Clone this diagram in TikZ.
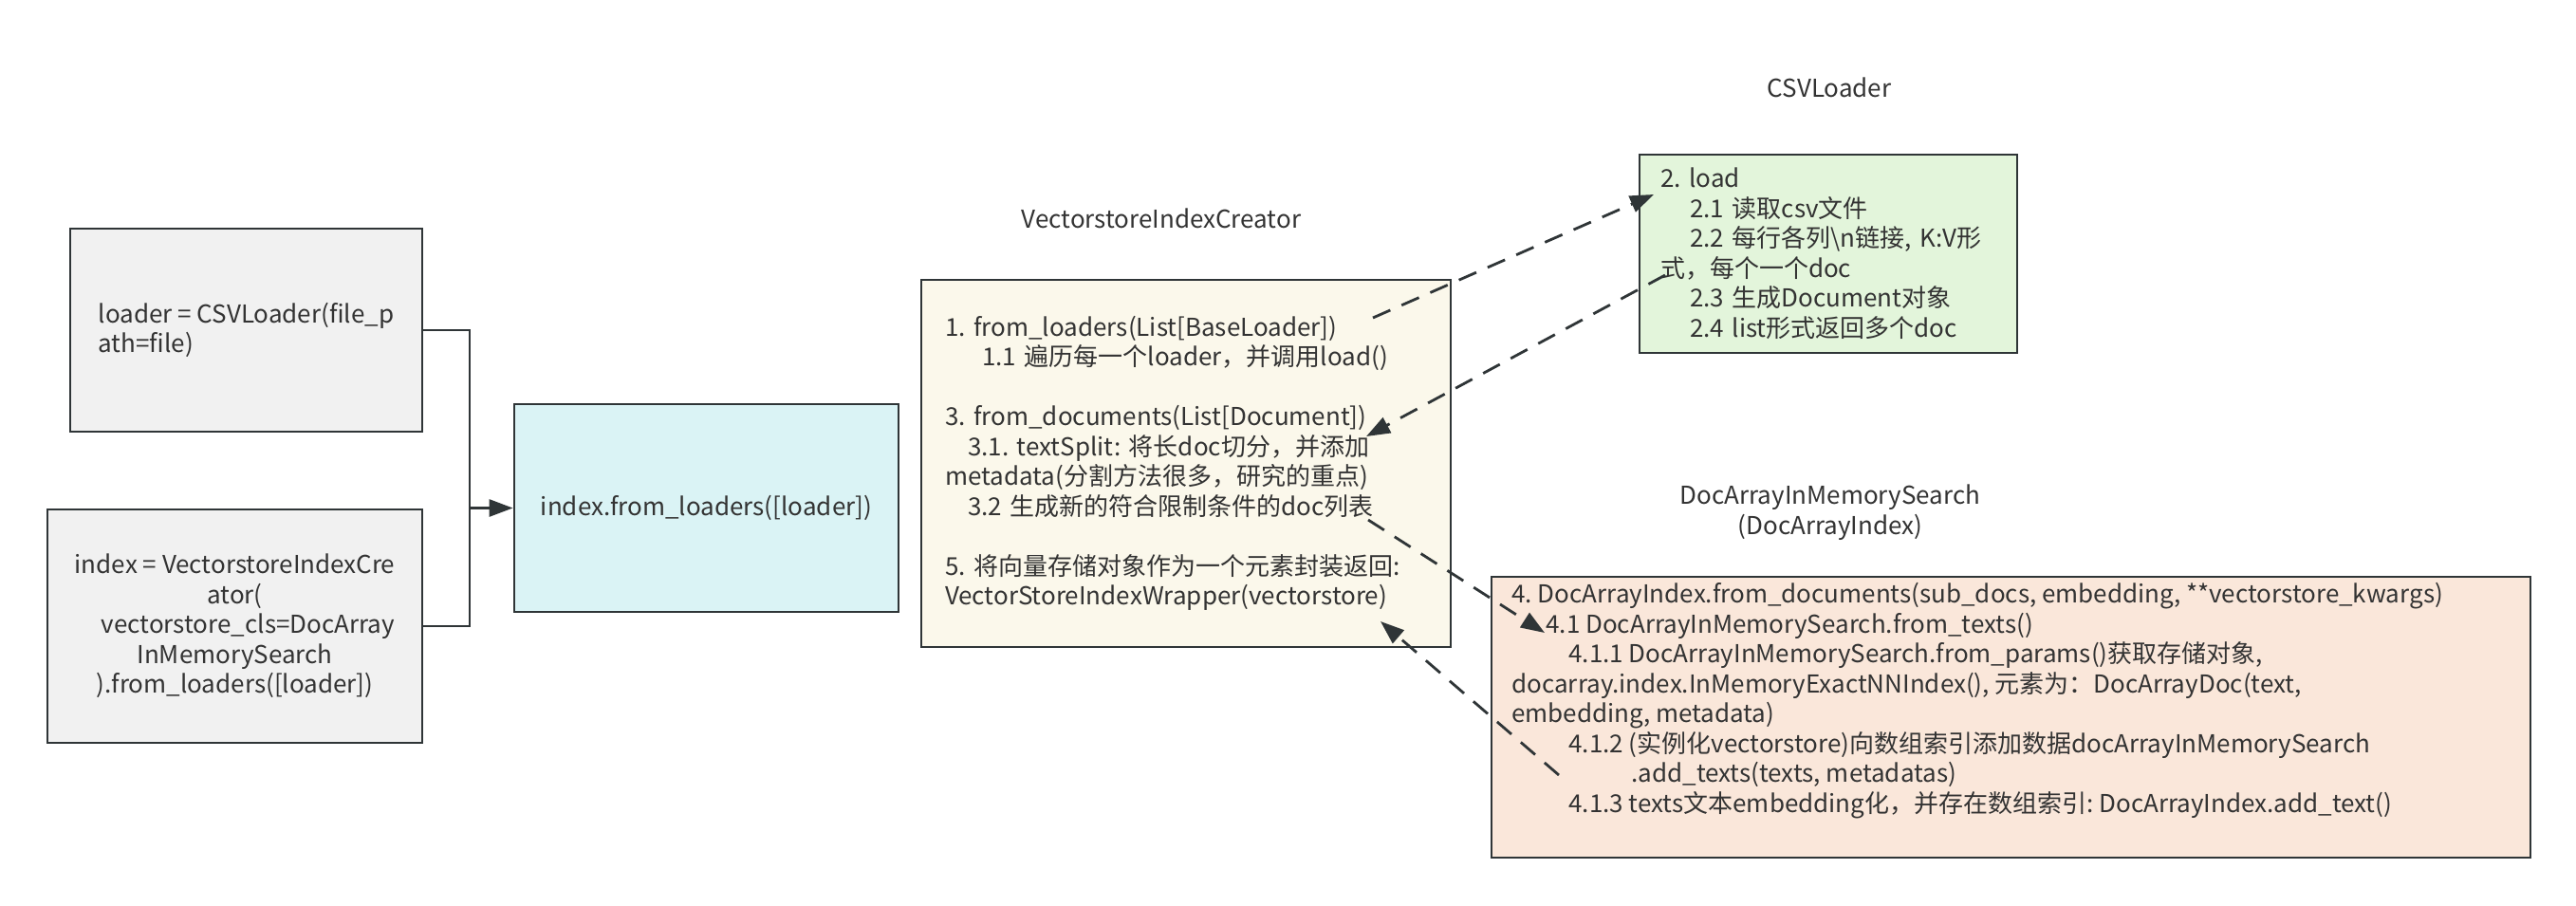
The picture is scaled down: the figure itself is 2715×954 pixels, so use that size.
\documentclass[tikz,border=0pt]{standalone}
\usepackage{fontspec}
\setmainfont{Noto Sans CJK SC}
\usetikzlibrary{arrows.meta}
\frenchspacing
\definecolor{edgegray}{HTML}{2F3537}
\definecolor{txtgray}{HTML}{333333}
\definecolor{graybox}{HTML}{F1F1F1}
\definecolor{cyanbox}{HTML}{DAF3F5}
\definecolor{creambox}{HTML}{FBF8EB}
\definecolor{greenbox}{HTML}{E3F5DB}
\definecolor{peachbox}{HTML}{FAE7DA}

\begin{document}
\begin{tikzpicture}[x=0.5pt,y=-0.5pt,
        every node/.style={text=txtgray, font=\fontsize{13}{15.75}\selectfont},
        box/.style={draw=edgegray, line width=1.4pt, inner sep=0pt},
        wire/.style={draw=edgegray, line width=1.4pt},
        flow/.style={wire, -{Triangle[length=12.5pt,width=9pt]}},
        call/.style={flow, dash pattern=on 10pt off 6.5pt}]
        \useasboundingbox (0,0) rectangle (2715,954);

        \node[box, fill=graybox, minimum width=185.5pt, minimum height=107pt, align=left]
            (loader) at (259.5,348) {loader = CSVLoader(file\_p\\ath=file)};
        \node[box, fill=graybox, minimum width=197.5pt, minimum height=123pt, align=center]
            (creator) at (247.5,660) {index = VectorstoreIndexCre\\ator(\\\hspace*{14pt}vectorstore\_cls=DocArray\\InMemorySearch\\).from\_loaders([loader])};
        \node[box, fill=cyanbox, minimum width=202.5pt, minimum height=109.5pt]
            (fromloaders) at (744.5,535.5) {index.from\_loaders([loader])};

        \node (vicname) at (1224,230) {VectorstoreIndexCreator};
        \node[box, fill=creambox, text width=254pt, inner xsep=12.5pt, minimum height=193.5pt, align=left]
            (vic) at (1250,488.5) {1. from\_loaders(List[BaseLoader])\\
            \hspace*{19.5pt}1.1 遍历每一个loader，并调用load()\\[15.75pt]
            3. from\_documents(List[Document])\\
            \hspace*{12pt}3.1. textSplit: 将长doc切分，并添加\\
            metadata(分割方法很多，研究的重点)\\
            \hspace*{12pt}3.2 生成新的符合限制条件的doc列表\\[15.75pt]
            5. 将向量存储对象作为一个元素封装返回:\\
            VectorStoreIndexWrapper(vectorstore)};

        \node (csvname) at (1928,92) {CSVLoader};
        \node[box, fill=greenbox, text width=177pt, inner xsep=11pt, minimum height=104.5pt, align=left]
            (csv) at (1927,267.5) {2. load\\
            \hspace*{15.5pt}2.1 读取csv文件\\
            \hspace*{15.5pt}2.2 每行各列\textbackslash n链接, K:V形\\
            式，每个一个doc\\
            \hspace*{15.5pt}2.3 生成Document对象\\
            \hspace*{15.5pt}2.4 list形式返回多个doc};

        \node[align=center] (docarrname) at (1929,540) {DocArrayInMemorySearch\\(DocArrayIndex)};
        \node[box, fill=peachbox, minimum width=547.5pt, minimum height=148pt] (docarr) at (2119.5,756) {};
        \node[anchor=north west, inner sep=0pt, align=left] (docarrtxt) at (1593,614)
            {4. DocArrayIndex.from\_documents(sub\_docs, embedding, **vectorstore\_kwargs)\\
            \hspace*{18pt}4.1 DocArrayInMemorySearch.from\_texts()\\
            \hspace*{30pt}4.1.1 DocArrayInMemorySearch.from\_params()获取存储对象,\\
            docarray.index.InMemoryExactNNIndex(), 元素为：DocArrayDoc(text,\\
            embedding, metadata)\\
            \hspace*{30pt}4.1.2 (实例化vectorstore)向数组索引添加数据docArrayInMemorySearch\\
            \hspace*{63pt}.add\_texts(texts, metadatas)\\
            \hspace*{30pt}4.1.3 texts文本embedding化，并存在数组索引: DocArrayIndex.add\_text()};

        \coordinate (join) at (495,535.5);
        \draw[wire] (loader.east) -| (join);
        \draw[wire] (creator.east) -| (join);
        \draw[flow] (join) -- (fromloaders.west);

        \coordinate (a1s) at (1447,335);
        \coordinate (a1e) at (1743,205);
        \coordinate (a2s) at (1755,290);
        \coordinate (a2e) at (1440,460);
        \coordinate (a3s) at (1442,548);
        \coordinate (a3e) at (1628,667);
        \coordinate (a4s) at (1643,817);
        \coordinate (a4e) at (1455,655);
        \draw[call] (a1s) -- (a1e);
        \draw[call] (a2s) -- (a2e);
        \draw[call] (a3s) -- (a3e);
        \draw[call] (a4s) -- (a4e);
\end{tikzpicture}
\end{document}
